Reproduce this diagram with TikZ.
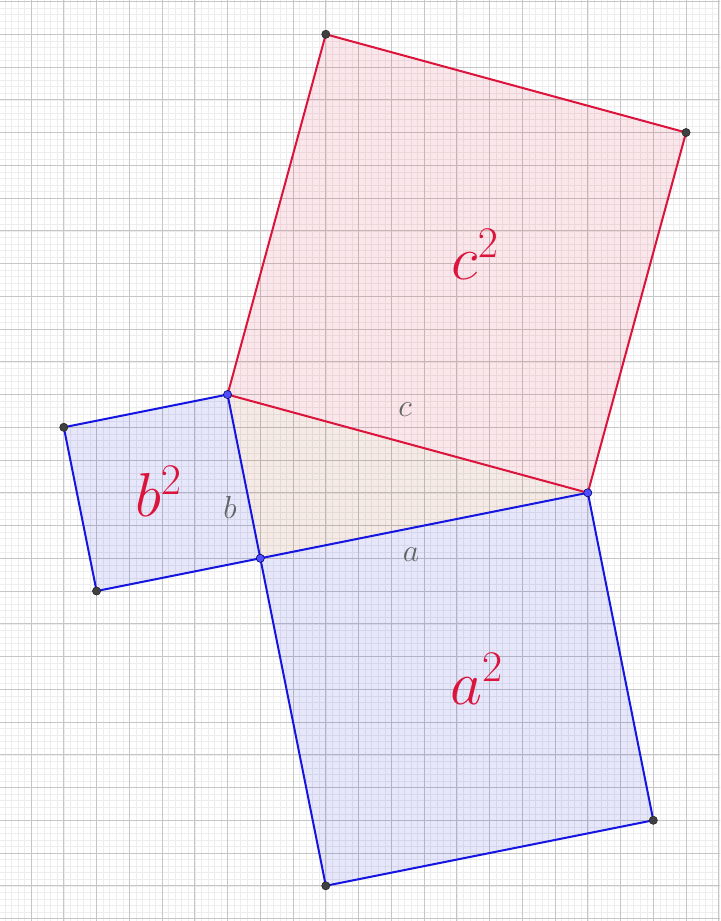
\RequirePackage{fix-cm}
\documentclass[tikz,border=0pt]{standalone}
\DeclareMathSizes{54}{54}{38}{27}
\DeclareMathSizes{27.7}{27.7}{19.4}{13.9}
\definecolor{gridmaj}{RGB}{198,198,198}
\definecolor{gridmin}{RGB}{237,237,237}
\definecolor{redl}{RGB}{220,20,60}
\definecolor{bluel}{RGB}{21,21,225}
\definecolor{brownf}{RGB}{153,51,0}
\definecolor{lblgray}{RGB}{100,100,100}
\definecolor{ptdark}{RGB}{64,64,64}
\definecolor{ptblue}{RGB}{77,77,255}
\begin{document}
\begin{tikzpicture}[x=1cm,y=1cm,
  redside/.style={draw=redl,line width=1.75pt,line join=round},
  blueside/.style={draw=bluel,line width=1.75pt,line join=round},
  outerpt/.style={circle,fill=ptdark,draw=black!85,line width=0.5pt,inner sep=0pt,minimum size=0.25cm},
  tript/.style={circle,fill=ptblue,draw=blue!40!black,line width=0.5pt,inner sep=0pt,minimum size=0.25cm},
  biglbl/.style={text=redl,inner sep=0pt,anchor=base west,font=\fontsize{54}{60}\selectfont},
  sidelbl/.style={text=lblgray,inner sep=0pt,anchor=base,font=\fontsize{27.7}{30}\selectfont}]
\useasboundingbox (-7.948,-11.075) rectangle (14.037,17.047);
\clip (-7.948,-11.075) rectangle (14.037,17.047);
% grid
\draw[gridmin,line width=0.4pt,step=0.2] (-9,-12) grid (15,18);
\draw[gridmaj,line width=0.7pt,step=1] (-9,-12) grid (15,18);
% vertices
\coordinate (C) at (0,0);
\coordinate (A) at (10,2);
\coordinate (B) at (-1,5);
\coordinate (P1) at (12,-8);
\coordinate (P2) at (2,-10);
\coordinate (Q1) at (-6,4);
\coordinate (Q2) at (-5,-1);
\coordinate (R1) at (2,16);
\coordinate (R2) at (13,13);
% fills
\fill[redl,fill opacity=0.1] (B) -- (A) -- (R2) -- (R1) -- cycle;
\fill[bluel,fill opacity=0.1] (C) -- (P2) -- (P1) -- (A) -- cycle;
\fill[bluel,fill opacity=0.1] (B) -- (Q1) -- (Q2) -- (C) -- cycle;
\fill[brownf,fill opacity=0.1] (A) -- (B) -- (C) -- cycle;
% sides
\draw[redside] (B) -- (R1) -- (R2) -- (A) -- (B);
\draw[blueside] (A) -- (C) -- (P2) -- (P1) -- (A);
\draw[blueside] (C) -- (B) -- (Q1) -- (Q2) -- (C);
% points
\node[outerpt] (pR1) at (R1) {};
\node[outerpt] (pR2) at (R2) {};
\node[outerpt] (pP1) at (P1) {};
\node[outerpt] (pP2) at (P2) {};
\node[outerpt] (pQ1) at (Q1) {};
\node[outerpt] (pQ2) at (Q2) {};
\node[tript] (pA) at (A) {};
\node[tript] (pB) at (B) {};
\node[tript] (pC) at (C) {};
% labels
\node[biglbl] (lc2) at (5.84,8.50) {$c^2$};
\node[biglbl] (lb2) at (-3.83,1.27) {$b^2$};
\node[biglbl] (la2) at (5.79,-4.45) {$a^2$};
\node[sidelbl] (lc) at (4.42,4.32) {$c$};
\node[sidelbl] (la) at (4.60,-0.10) {$a$};
\node[sidelbl] (lb) at (-0.925,1.22) {$b$};
\end{tikzpicture}
\end{document}
